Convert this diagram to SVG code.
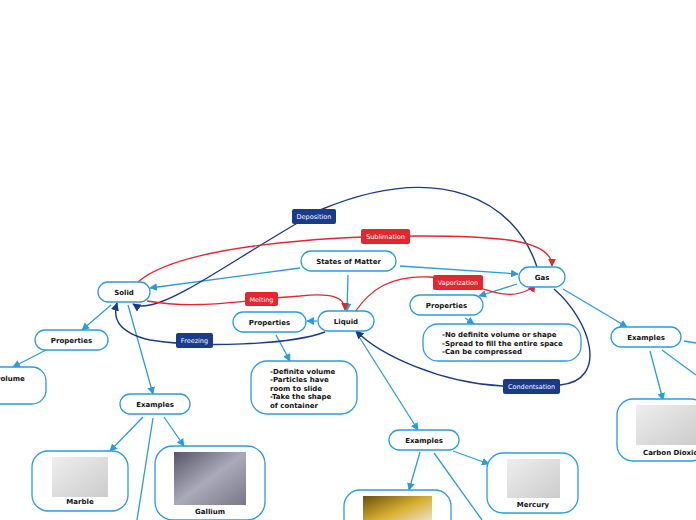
<svg xmlns="http://www.w3.org/2000/svg" width="696" height="520" viewBox="0 0 696 520">
<defs>
<style>
.n{fill:#fff;stroke:#2a9be0;stroke-width:1.3}
.t{font-family:"DejaVu Sans",sans-serif;font-size:7px;font-weight:bold;fill:#111}
.c{fill:none;stroke:#2a9be0;stroke-width:1.3}
.b{fill:none;stroke:#1a3a8a;stroke-width:1.4}
.r{fill:none;stroke:#e8252f;stroke-width:1.3}
.lb{font-family:"DejaVu Sans",sans-serif;font-size:6.5px;fill:#fff}
</style>
<marker id="ac" viewBox="0 0 10 10" refX="9" refY="5" markerWidth="6" markerHeight="6" orient="auto"><path d="M0,0L10,5L0,10z" fill="#2a9be0"/></marker>
<marker id="ab" viewBox="0 0 10 10" refX="9" refY="5" markerWidth="6" markerHeight="6" orient="auto"><path d="M0,0L10,5L0,10z" fill="#1a3a8a"/></marker>
<marker id="ar" viewBox="0 0 10 10" refX="9" refY="5" markerWidth="6" markerHeight="6" orient="auto"><path d="M0,0L10,5L0,10z" fill="#e8252f"/></marker>
<linearGradient id="g1" x1="0" y1="0" x2="1" y2="1"><stop offset="0" stop-color="#eee"/><stop offset="1" stop-color="#ccc"/></linearGradient>
<linearGradient id="g2" x1="0" y1="0" x2="1" y2="1"><stop offset="0" stop-color="#556"/><stop offset="0.5" stop-color="#aab"/><stop offset="1" stop-color="#778"/></linearGradient>
<linearGradient id="g3" x1="0" y1="0" x2="1" y2="1"><stop offset="0" stop-color="#6a5010"/><stop offset="0.5" stop-color="#d8b030"/><stop offset="1" stop-color="#eee"/></linearGradient>
</defs>
<g id="connectors">
<path class="c" d="M300,268L150,288" marker-end="url(#ac)"/>
<path class="c" d="M348,275L347,311" marker-end="url(#ac)"/>
<path class="c" d="M400,266L518,274" marker-end="url(#ac)"/>
<path class="c" d="M111,305L82,330" marker-end="url(#ac)"/>
<path class="c" d="M46,350L13,367" marker-end="url(#ac)"/>
<path class="c" d="M128,305L153,394" marker-end="url(#ac)"/>
<path class="c" d="M143,417L110,451" marker-end="url(#ac)"/>
<path class="c" d="M164,417L184,446" marker-end="url(#ac)"/>
<path class="c" d="M153,418L137,520"/>
<path class="c" d="M317,321L307,321" marker-end="url(#ac)"/>
<path class="c" d="M276,335L290,361" marker-end="url(#ac)"/>
<path class="c" d="M356,332L418,430" marker-end="url(#ac)"/>
<path class="c" d="M420,452L409,490" marker-end="url(#ac)"/>
<path class="c" d="M453,451L489,464" marker-end="url(#ac)"/>
<path class="c" d="M434,453L482,520"/>
<path class="c" d="M517,284L479,296" marker-end="url(#ac)"/>
<path class="c" d="M465,318L474,324" marker-end="url(#ac)"/>
<path class="c" d="M563,289L627,327" marker-end="url(#ac)"/>
<path class="c" d="M650,351L663,400" marker-end="url(#ac)"/>
<path class="c" d="M662,350L696,375"/>
<path class="c" d="M684,341L696,343"/>
<path class="b" d="M537,267C515,200 440,160 320,210C240,255 180,300 150,305C140,307 136,306 133,304" marker-end="url(#ab)"/>
<path class="r" d="M138,282C180,245 330,236 420,236C500,236 552,240 552,266" marker-end="url(#ar)"/>
<path class="r" d="M147,301C200,310 240,300 300,296C330,293 345,296 345,310" marker-end="url(#ar)"/>
<path class="r" d="M355,312C370,290 390,275 430,277C470,280 500,300 520,293C530,290 533,288 535,285" marker-end="url(#ar)"/>
<path class="b" d="M325,332C290,345 200,348 150,340C120,333 112,320 117,303" marker-end="url(#ab)"/>
<path class="b" d="M554,289C590,320 610,380 560,385L503,386C440,383 380,355 356,331" marker-end="url(#ab)"/>
</g>
<g id="labels">
<rect x="292" y="209" width="44" height="15" rx="2" fill="#1a3a8a"/><text class="lb" x="314" y="219" text-anchor="middle">Deposition</text>
<rect x="361" y="229" width="49" height="15" rx="2" fill="#e8252f"/><text class="lb" x="385.5" y="239" text-anchor="middle">Sublimation</text>
<rect x="245" y="292" width="33" height="14" rx="2" fill="#e8252f"/><text class="lb" x="261.5" y="302" text-anchor="middle">Melting</text>
<rect x="433" y="275" width="50" height="15" rx="2" fill="#e8252f"/><text class="lb" x="458" y="285" text-anchor="middle">Vaporization</text>
<rect x="176" y="333" width="37" height="15" rx="2" fill="#1a3a8a"/><text class="lb" x="194.5" y="343" text-anchor="middle">Freezing</text>
<rect x="503" y="379" width="57" height="15" rx="2" fill="#1a3a8a"/><text class="lb" x="531.5" y="389" text-anchor="middle">Condentsation</text>
</g>
<g id="som"><rect class="n" x="301" y="251" width="95" height="20" rx="10"/><text class="t" x="348.5" y="264" text-anchor="middle">States of Matter</text></g>
<g id="solid"><rect class="n" x="98" y="282" width="52" height="20" rx="10"/><text class="t" x="124" y="295" text-anchor="middle">Solid</text></g>
<g id="liquid"><rect class="n" x="318" y="311" width="56" height="20" rx="10"/><text class="t" x="346" y="324" text-anchor="middle">Liquid</text></g>
<g id="gas"><rect class="n" x="519" y="267" width="46" height="20" rx="10"/><text class="t" x="542" y="280" text-anchor="middle">Gas</text></g>
<g id="solid-props"><rect class="n" x="35" y="330" width="73" height="20" rx="10"/><text class="t" x="71.5" y="343" text-anchor="middle">Properties</text></g>
<g id="solid-vol"><rect class="n" x="-20" y="367" width="66" height="37" rx="14"/><text class="t" x="-4" y="381">volume</text></g>
<g id="solid-ex"><rect class="n" x="120" y="394" width="70" height="20" rx="10"/><text class="t" x="155" y="407" text-anchor="middle">Examples</text></g>
<g id="marble"><rect class="n" x="32" y="451" width="96" height="60" rx="16"/><rect x="52" y="457" width="56" height="40" fill="url(#g1)"/><text class="t" x="80" y="504" text-anchor="middle">Marble</text></g>
<g id="gallium"><rect class="n" x="155" y="446" width="110" height="74" rx="18"/><rect x="174" y="452" width="72" height="53" fill="url(#g2)"/><text class="t" x="210" y="514" text-anchor="middle">Gallium</text></g>
<g id="liq-props"><rect class="n" x="233" y="312" width="73" height="20" rx="10"/><text class="t" x="269.5" y="325" text-anchor="middle">Properties</text></g>
<g id="liq-text"><rect class="n" x="251" y="361" width="106" height="53" rx="16"/><text class="t" x="270" y="374">-Definite volume</text><text class="t" x="270" y="382">-Particles have</text><text class="t" x="270" y="391">room to slide</text><text class="t" x="270" y="399">-Take the shape</text><text class="t" x="270" y="408">of container</text></g>
<g id="gas-props"><rect class="n" x="410" y="295" width="73" height="20" rx="10"/><text class="t" x="446.5" y="308" text-anchor="middle">Properties</text></g>
<g id="gas-text"><rect class="n" x="423" y="324" width="158" height="37" rx="15"/><text class="t" x="442" y="337">-No definite volume or shape</text><text class="t" x="442" y="346">-Spread to fill the entire space</text><text class="t" x="442" y="354">-Can be compressed</text></g>
<g id="liq-ex"><rect class="n" x="389" y="430" width="70" height="20" rx="10"/><text class="t" x="424" y="443" text-anchor="middle">Examples</text></g>
<g id="mercury"><rect class="n" x="487" y="453" width="91" height="60" rx="16"/><rect x="507" y="459" width="53" height="39" fill="url(#g1)"/><text class="t" x="533" y="507" text-anchor="middle">Mercury</text></g>
<g id="oil"><rect class="n" x="344" y="490" width="107" height="50" rx="16"/><rect x="363" y="496" width="69" height="30" fill="url(#g3)"/></g>
<g id="gas-ex"><rect class="n" x="611" y="327" width="70" height="20" rx="10"/><text class="t" x="646" y="340" text-anchor="middle">Examples</text></g>
<g id="co2"><rect class="n" x="617" y="399" width="90" height="62" rx="16"/><rect x="636" y="405" width="60" height="40" fill="url(#g1)"/><text class="t" x="643" y="455">Carbon Dioxide</text></g>
</svg>
